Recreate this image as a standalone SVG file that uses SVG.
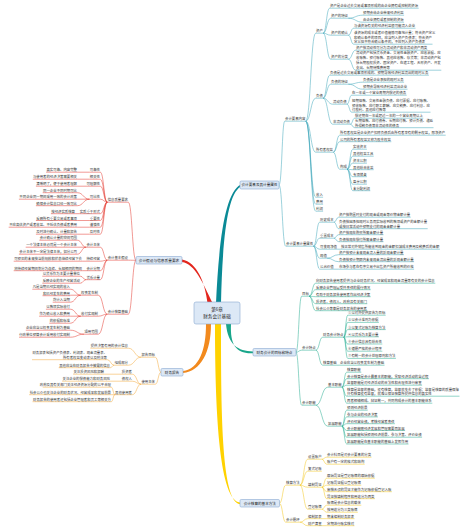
<svg xmlns="http://www.w3.org/2000/svg" width="474" height="530" viewBox="0 0 474 530">
<style>
text{font-family:"Noto Sans CJK SC","Noto Sans",sans-serif;font-size:3.4px;fill:#333}
.e{text-anchor:end}
.n rect{fill:#dce8f6;stroke:#89a9d2;stroke-width:.6}
.n text{font-size:3.6px;text-anchor:middle;fill:#222}
.ctr text{font-size:4.6px}
path{fill:none;stroke-width:.5}
.a{stroke:#3aa5b8}.b{stroke:#22aa8f}.c{stroke:#f3c516}.d{stroke:#f2a635}.f{stroke:#e2352b}
.mt{fill:#0a8a96;stroke:none}.mr{fill:#e3261d;stroke:none}.mo{fill:#f28a1e;stroke:none}.my{fill:#ffd200;stroke:none}.mg{fill:#19a68b;stroke:none}
</style>
<rect width="474" height="530" fill="#fff"/>
<g id="connectors">
<path class="mt" d="M216 303C219 240 225 193 240.5 184.8L240.5 186.8C227 195 222.5 240 221 303Z"/>
<path class="mr" d="M207.5 303C205 282 197 262.5 182 259.5L182 262C195 264 203 283 212.5 303Z"/>
<path class="mo" d="M206 324C206 350 199 369 183 371L183 373C201 371 211 352 211 324Z"/>
<path class="my" d="M215 324C215 420 220 500 240 502.5L240 504.2C222 502 221 420 221 324Z"/>
<path class="mg" d="M226 324C228 345 238 351 253 351.5L253 353.2C236 354 230 345 231 324Z"/>
<g class="a">
<path d="M279 185C282 185 282 121.2 284.7 121.2M279 185C282.3 185 282.3 246.2 285.7 246.2"/>
<path d="M305.7 121.2C310.7 121.2 310.7 33.2 315.7 33.2M305.7 121.2C310.7 121.2 310.7 98.2 315.7 98.2M305.7 121.2C310.7 121.2 310.7 152.2 315.7 152.2M305.7 121.2C310.7 121.2 310.7 197.2 315.7 197.2M305.7 121.2C310.7 121.2 310.7 204.2 315.7 204.2M305.7 121.2C310.7 121.2 310.7 211.2 315.7 211.2"/>
<path d="M323.1 33.2C326.4 33.2 326.4 8.2 329.7 8.2M323.1 33.2C326.9 33.2 326.9 18.2 330.7 18.2M323.1 33.2C326.9 33.2 326.9 35.2 330.7 35.2M323.1 33.2C326.9 33.2 326.9 59.2 330.7 59.2"/>
<path d="M348.3 18.2C355.5 18.2 355.5 15.2 362.7 15.2M348.3 18.2C355.5 18.2 355.5 22.2 362.7 22.2"/>
<path d="M348.3 35.2C351 35.2 351 28.2 353.7 28.2M348.3 35.2C351 35.2 351 44.2 353.7 44.2"/>
<path d="M348.3 59.2C352 59.2 352 50.2 355.7 50.2M348.3 59.2C352 59.2 352 70.2 355.7 70.2"/>
<path d="M323.1 98.2C326.4 98.2 326.4 75.2 329.7 75.2M323.1 98.2C326.9 98.2 326.9 84.2 330.7 84.2M323.1 98.2C327.9 98.2 327.9 104.2 332.7 104.2M323.1 98.2C327.9 98.2 327.9 124.2 332.7 124.2"/>
<path d="M348.3 84.2C355.5 84.2 355.5 82.2 362.7 82.2M348.3 84.2C355.5 84.2 355.5 89.2 362.7 89.2"/>
<path d="M346.9 104.2C349.3 104.2 349.3 95.2 351.7 95.2M346.9 104.2C349.3 104.2 349.3 112.2 351.7 112.2"/>
<path d="M350.3 124.2C352.5 124.2 352.5 118.2 354.7 118.2M350.3 124.2C352.5 124.2 352.5 127.7 354.7 127.7"/>
<path d="M333.3 152.2C336.5 152.2 336.5 135.2 339.7 135.2M333.3 152.2C336.5 152.2 336.5 141.7 339.7 141.7M333.3 152.2C336.5 152.2 336.5 169.2 339.7 169.2"/>
<path d="M347.1 169.2C350 169.2 350 149.2 352.7 149.2M347.1 169.2C350 169.2 350 156.2 352.7 156.2M347.1 169.2C350 169.2 350 163.2 352.7 163.2M347.1 169.2C350 169.2 350 169.7 352.7 169.7M347.1 169.2C350 169.2 350 176.7 352.7 176.7M347.1 169.2C350 169.2 350 184.2 352.7 184.2M347.1 169.2C350 169.2 350 190.7 352.7 190.7"/>
<path d="M313.5 246.2C316.6 246.2 316.6 222.2 319.7 222.2M313.5 246.2C316.6 246.2 316.6 238.2 319.7 238.2M313.5 246.2C316.6 246.2 316.6 249.2 319.7 249.2M313.5 246.2C316.6 246.2 316.6 258.2 319.7 258.2M313.5 246.2C316.6 246.2 316.6 269.2 319.7 269.2"/>
<path d="M333.9 222.2C336.3 222.2 336.3 217.2 338.7 217.2M333.9 222.2C336.3 222.2 336.3 228.7 338.7 228.7M333.9 238.2C336.3 238.2 336.3 234.7 338.7 234.7M333.9 238.2C336.3 238.2 336.3 241.7 338.7 241.7M337.3 249.2H340.7M327.1 258.2C332.9 258.2 332.9 254.7 338.7 254.7M327.1 258.2C332.9 258.2 332.9 261.7 338.7 261.7M333.9 269.2H338.7"/>
</g>
<g class="b">
<path d="M296 352.3C298.8 352.3 298.8 296.2 301.7 296.2M296 352.3C298.8 352.3 298.8 350.2 301.7 350.2M296 352.3C298.8 352.3 298.8 405.2 301.7 405.2"/>
<path d="M309.1 296.2C312.4 296.2 312.4 283.2 315.7 283.2M309.1 296.2C312.4 296.2 312.4 289.7 315.7 289.7M309.1 296.2C312.4 296.2 312.4 296.7 315.7 296.7M309.1 296.2C312.4 296.2 312.4 303.7 315.7 303.7M309.1 296.2C312.4 296.2 312.4 310.7 315.7 310.7"/>
<path d="M315.9 350.2C319.3 350.2 319.3 337.2 322.7 337.2M315.9 350.2C319.3 350.2 319.3 365.2 322.7 365.2"/>
<path d="M343.7 337.2C345.7 337.2 345.7 315.2 347.7 315.2M343.7 337.2C345.7 337.2 345.7 322.4 347.7 322.4M343.7 337.2C345.7 337.2 345.7 329.6 347.7 329.6M343.7 337.2C345.7 337.2 345.7 336.8 347.7 336.8M343.7 337.2C345.7 337.2 345.7 344 347.7 344M343.7 337.2C345.7 337.2 345.7 351.2 347.7 351.2M343.7 337.2C345.7 337.2 345.7 358.4 347.7 358.4M336.9 365.2H339.7"/>
<path d="M315.9 405.2C321.8 405.2 321.8 387.2 327.7 387.2M315.9 405.2C321.8 405.2 321.8 426.2 327.7 426.2"/>
<path d="M341.9 387.2C344.3 387.2 344.3 372.2 346.7 372.2M341.9 387.2C344.3 387.2 344.3 378.7 346.7 378.7M341.9 387.2C344.3 387.2 344.3 385.2 346.7 385.2M341.9 387.2C344.3 387.2 344.3 396.2 346.7 396.2M341.9 387.2C344.3 387.2 344.3 403.2 346.7 403.2"/>
<path d="M341.9 426.2C344.3 426.2 344.3 410.2 346.7 410.2M341.9 426.2C344.3 426.2 344.3 416.9 346.7 416.9M341.9 426.2C344.3 426.2 344.3 423.7 346.7 423.7M341.9 426.2C344.3 426.2 344.3 430.5 346.7 430.5M341.9 426.2C344.3 426.2 344.3 437.2 346.7 437.2M341.9 426.2C344.3 426.2 344.3 444 346.7 444"/>
</g>
<g class="c">
<path d="M279.5 503.3C282.6 503.3 282.6 485.2 285.7 485.2M279.5 503.3C282.6 503.3 282.6 522.2 285.7 522.2"/>
<path d="M299.9 485.2C303.8 485.2 303.8 459.2 307.7 459.2M299.9 485.2C303.8 485.2 303.8 471.2 307.7 471.2M299.9 485.2C303.8 485.2 303.8 487.2 307.7 487.2M299.9 485.2C303.8 485.2 303.8 509.2 307.7 509.2"/>
<path d="M321.9 459.2C324.3 459.2 324.3 457.2 326.7 457.2M321.9 459.2C324.3 459.2 324.3 464.2 326.7 464.2"/>
<path d="M321.9 487.2C324.3 487.2 324.3 478.2 326.7 478.2M321.9 487.2C324.3 487.2 324.3 485.2 326.7 485.2M321.9 487.2C324.3 487.2 324.3 491.7 326.7 491.7M321.9 487.2C324.3 487.2 324.3 498.7 326.7 498.7"/>
<path d="M321.9 509.2C324.3 509.2 324.3 505.2 326.7 505.2M321.9 509.2C324.3 509.2 324.3 512.2 326.7 512.2"/>
<path d="M299.9 522.2C303.8 522.2 303.8 518.7 307.7 518.7M299.9 522.2C303.8 522.2 303.8 525.7 307.7 525.7M321.9 518.7H326.7M321.9 525.7H326.7"/>
</g>
<g class="d">
<path d="M161 372.2C158.2 372.2 158.2 357.2 155.3 357.2M161 372.2C158.2 372.2 158.2 384.2 155.3 384.2"/>
<path d="M141.1 357.2C134.7 357.2 134.7 348.2 128.3 348.2M141.1 357.2C134.7 357.2 134.7 365.2 128.3 365.2"/>
<path d="M114.1 365.2C110.7 365.2 110.7 359.7 107.3 359.7M114.1 365.2C112.2 365.2 112.2 367.7 110.3 367.7"/>
<path d="M141.1 384.2C136.7 384.2 136.7 374.2 132.3 374.2M141.1 384.2C136.7 384.2 136.7 381.2 132.3 381.2M141.1 384.2C136.7 384.2 136.7 394.7 132.3 394.7"/>
<path d="M121.9 374.2H104.3M121.9 381.2H110.3"/>
<path d="M114.9 394.7C113.1 394.7 113.1 387.2 111.3 387.2M114.9 394.7H111.3M114.9 394.7C113.1 394.7 113.1 401.7 111.3 401.7"/>
</g>
<g class="f">
<path d="M136 260.3C132.2 260.3 132.2 202.2 128.3 202.2M136 260.3C132.2 260.3 132.2 260.2 128.3 260.2M136 260.3C132.2 260.3 132.2 314.2 128.3 314.2"/>
<path d="M107.3 202.2C103.8 202.2 103.8 172.2 100.3 172.2M107.3 202.2C103.8 202.2 103.8 179.2 100.3 179.2M107.3 202.2C103.8 202.2 103.8 186.2 100.3 186.2M107.3 202.2C103.8 202.2 103.8 199.2 100.3 199.2M107.3 202.2C103.8 202.2 103.8 213.7 100.3 213.7M107.3 202.2C103.8 202.2 103.8 220.5 100.3 220.5M107.3 202.2C103.8 202.2 103.8 227.2 100.3 227.2M107.3 202.2C103.8 202.2 103.8 234.2 100.3 234.2"/>
<path d="M89.5 172.2H77.3M89.5 179.2H77.3M86.1 186.2H77.3M89.5 199.2C83.4 199.2 83.4 192.7 77.3 192.7M89.5 199.2H77.3M89.5 199.2C83.4 199.2 83.4 205.7 77.3 205.7M79.3 213.7H75.3M89.5 220.5H77.3M89.5 227.2H77.3M89.5 234.2H77.3"/>
<path d="M107.3 260.2C103.8 260.2 103.8 247.2 100.3 247.2M107.3 260.2C103.8 260.2 103.8 261.2 100.3 261.2M107.3 260.2C103.8 260.2 103.8 270.7 100.3 270.7M107.3 260.2C103.8 260.2 103.8 279.7 100.3 279.7"/>
<path d="M86.1 247.2C81.7 247.2 81.7 240.2 77.3 240.2M86.1 247.2H77.3M86.1 247.2C81.7 247.2 81.7 254.2 77.3 254.2M86.1 261.2H82.3M86.1 270.7H82.3M86.1 279.7C83.2 279.7 83.2 276.2 80.3 276.2M86.1 279.7C83.2 279.7 83.2 283.2 80.3 283.2"/>
<path d="M107.3 314.2C102.8 314.2 102.8 295.2 98.3 295.2M107.3 314.2C102.8 314.2 102.8 316.2 98.3 316.2M107.3 314.2C102.8 314.2 102.8 334.2 98.3 334.2"/>
<path d="M80.7 295.2C75.5 295.2 75.5 289.2 70.3 289.2M80.7 295.2H70.3M80.7 295.2C75.5 295.2 75.5 302.2 70.3 302.2M80.7 316.2C75.5 316.2 75.5 309.2 70.3 309.2M80.7 316.2H70.3M80.7 316.2C75.5 316.2 75.5 323.2 70.3 323.2M84.1 334.2C77.2 334.2 77.2 330.2 70.3 330.2M84.1 334.2C77.2 334.2 77.2 337.2 70.3 337.2"/>
</g>
</g>

<g id="center" class="n ctr"><rect x="194" y="302" width="46" height="22" rx="2"/><text x="217" y="310.8">第6章</text><text x="217" y="317.6">财务会计基础</text></g>

<g id="n1" class="n"><rect x="240" y="181" width="39" height="8" rx="1.2"/><text x="259.5" y="186.3">会计要素及其计量属性</text></g>
<g id="n2" class="n"><rect x="253" y="348.5" width="43" height="7.5" rx="1.2"/><text x="274.5" y="353.6">财务会计的目标和特点</text></g>
<g id="n3" class="n"><rect x="240" y="499.5" width="39.5" height="7.5" rx="1.2"/><text x="259.8" y="504.6">会计核算的基本方法</text></g>
<g id="n4" class="n"><rect x="161" y="368.5" width="22" height="7.5" rx="1.2"/><text x="172" y="373.5">财务报告</text></g>
<g id="n5" class="n"><rect x="136" y="256.5" width="46" height="7.5" rx="1.2"/><text x="159" y="261.6" style="font-size:3.7px">会计假设与信息质量要求</text></g>

<g id="n1-items">
<g id="n1-1"><path class="a" d="M284.7 121.2H305.7"/><text x="285" y="120.2">会计要素内容</text></g>
<g id="n1-2"><path class="a" d="M285.7 246.2H313.5"/><text x="286" y="245.2">会计要素计量属性</text></g>
<g id="zc"><path class="a" d="M315.7 33.2H323.1"/><text x="316" y="32.2">资产</text></g>
<g id="fz"><path class="a" d="M315.7 98.2H323.1"/><text x="316" y="97.2">负债</text></g>
<g id="qy"><path class="a" d="M315.7 152.2H333.3"/><text x="316" y="151.2">所有者权益</text></g>
<g id="sr"><path class="a" d="M315.7 197.2H323.1"/><text x="316" y="196.2">收入</text></g>
<g id="fy"><path class="a" d="M315.7 204.2H323.1"/><text x="316" y="203.2">费用</text></g>
<g id="lr"><path class="a" d="M315.7 211.2H323.1"/><text x="316" y="210.2">利润</text></g>
<g id="zc1"><path class="a" d="M329.7 8.2H418.7"/><text x="330" y="7.2">资产是企业过去交易或事项形成的由企业拥有或控制的资源</text></g>
<g id="zc2"><path class="a" d="M330.7 18.2H348.3"/><text x="331" y="17.2">资产的特征</text></g>
<g id="zc21"><path class="a" d="M362.7 15.2H404.1"/><text x="363" y="14.2">预期会给企业带来经济利益</text></g>
<g id="zc22"><path class="a" d="M362.7 22.2H404.1"/><text x="363" y="21.2">由企业拥有或者控制的资源</text></g>
<g id="zc3"><path class="a" d="M330.7 35.2H348.3"/><text x="331" y="34.2">资产的确认</text></g>
<g id="zc31"><path class="a" d="M353.7 28.2H415.5"/><text x="354" y="27.2">与该资源有关的经济利益很可能流入企业</text></g>
<g id="zc32"><path class="a" d="M353.7 44.2H432.5"/><text x="354" y="34.2">该资源的成本或者价值能够可靠地计量；符合资产定义</text><text x="354" y="38.7">和确认条件的项目，应当列入资产负债表；符合资产</text><text x="354" y="43.2">定义但不符合确认条件的，不应列入资产负债表</text></g>
<g id="zc4"><path class="a" d="M330.7 59.2H348.3"/><text x="331" y="58.2">资产的分类</text></g>
<g id="zc41"><path class="a" d="M355.7 50.2H427.7"/><text x="356" y="49.2">资产按流动性可分为流动资产和非流动资产两类</text></g>
<g id="zc42"><path class="a" d="M355.7 70.2H441.3"/><text x="356" y="54.2">流动资产包括货币资金、交易性金融资产、应收票据、应</text><text x="356" y="59.2">收账款、预付账款、其他应收款、存货等；非流动资产包</text><text x="356" y="64.2">括长期股权投资、固定资产、在建工程、无形资产、开发</text><text x="356" y="69.2">支出、长期待摊费用等</text></g>
<g id="fz1"><path class="a" d="M329.7 75.2H428.9"/><text x="330" y="74.2">负债是过去交易或事项形成的、预期导致经济利益流出的现时义务</text></g>
<g id="fz2"><path class="a" d="M330.7 84.2H348.3"/><text x="331" y="83.2">负债的特征</text></g>
<g id="fz21"><path class="a" d="M362.7 82.2H404.1"/><text x="363" y="81.2">负债是企业承担的现时义务</text></g>
<g id="fz22"><path class="a" d="M362.7 89.2H407.5"/><text x="363" y="88.2">预期会导致经济利益流出企业</text></g>
<g id="fz3"><path class="a" d="M332.7 104.2H346.9"/><text x="333" y="103.2">流动负债</text></g>
<g id="fz31"><path class="a" d="M351.7 95.2H406.7"/><text x="352" y="94.2">在一年或一个营业周期内偿还的债务</text></g>
<g id="fz32"><path class="a" d="M351.7 112.2H430.5"/><text x="352" y="102.2">短期借款、交易性金融负债、应付票据、应付账款、</text><text x="352" y="106.7">预收账款、应付职工薪酬、应交税费、应付利息、应</text><text x="352" y="111.2">付股利、其他应付款等</text></g>
<g id="fz4"><path class="a" d="M332.7 124.2H350.3"/><text x="333" y="123.2">非流动负债</text></g>
<g id="fz41"><path class="a" d="M354.7 118.2H423.3"/><text x="355" y="117.2">偿还期在一年或超过一年的一个营业周期以上</text></g>
<g id="fz42"><path class="a" d="M354.7 127.7H433.5"/><text x="355" y="122.2">长期借款、应付债券、长期应付款、预计负债、递延</text><text x="355" y="126.7">所得税负债等非流动性的债务</text></g>
<g id="qy1"><path class="a" d="M339.7 135.2H445.7"/><text x="340" y="134.2">所有者权益是企业资产扣除负债后由所有者享有的剩余权益，即净资产</text></g>
<g id="qy2"><path class="a" d="M339.7 141.7H391.3"/><text x="340" y="140.7">公司的所有者权益又称为股东权益</text></g>
<g id="qy3"><path class="a" d="M339.7 169.2H347.1"/><text x="340" y="168.2">构成</text></g>
<g id="qy31"><path class="a" d="M352.7 149.2H366.9"/><text x="353" y="148.2">实收资本</text></g>
<g id="qy32"><path class="a" d="M352.7 156.2H373.7"/><text x="353" y="155.2">其他权益工具</text></g>
<g id="qy33"><path class="a" d="M352.7 163.2H366.9"/><text x="353" y="162.2">资本公积</text></g>
<g id="qy34"><path class="a" d="M352.7 169.7H373.7"/><text x="353" y="168.7">其他综合收益</text></g>
<g id="qy35"><path class="a" d="M352.7 176.7H366.9"/><text x="353" y="175.7">专项储备</text></g>
<g id="qy36"><path class="a" d="M352.7 184.2H366.9"/><text x="353" y="183.2">盈余公积</text></g>
<g id="qy37"><path class="a" d="M352.7 190.7H370.3"/><text x="353" y="189.7">未分配利润</text></g>
<g id="jl1"><path class="a" d="M319.7 222.2H333.9"/><text x="320" y="221.2">历史成本</text></g>
<g id="jl11"><path class="a" d="M338.7 217.2H410.7"/><text x="339" y="216.2">资产按购置时支付的现金或现金等价物金额计量</text></g>
<g id="jl12"><path class="a" d="M338.7 228.7H427.7"/><text x="339" y="223.2">负债按因承担现时义务而实际收到的款项或资产的金额计量</text><text x="339" y="227.7">或按日常活动中预期支付的现金金额计量</text></g>
<g id="jl2"><path class="a" d="M319.7 238.2H333.9"/><text x="320" y="237.2">重置成本</text></g>
<g id="jl21"><path class="a" d="M338.7 234.7H383.5"/><text x="339" y="233.7">资产按现在购买所需金额计量</text></g>
<g id="jl22"><path class="a" d="M338.7 241.7H383.5"/><text x="339" y="240.7">负债按现在偿付所需金额计量</text></g>
<g id="jl3"><path class="a" d="M319.7 249.2H337.3"/><text x="320" y="248.2">可变现净值</text></g>
<g id="jl31"><path class="a" d="M340.7 249.2H439.9"/><text x="341" y="248.2">按正常对外销售所能收到现金的金额扣减成本费用及税费后的金额</text></g>
<g id="jl4"><path class="a" d="M319.7 258.2H327.1"/><text x="320" y="257.2">现值</text></g>
<g id="jl41"><path class="a" d="M338.7 254.7H403.9"/><text x="339" y="253.7">资产按预计未来现金流入量的折现金额计量</text></g>
<g id="jl42"><path class="a" d="M338.7 261.7H414.1"/><text x="339" y="260.7">负债按预计期限内未来现金流出量的折现金额计量</text></g>
<g id="jl5"><path class="a" d="M319.7 269.2H333.9"/><text x="320" y="268.2">公允价值</text></g>
<g id="jl51"><path class="a" d="M338.7 269.2H414.1"/><text x="339" y="268.2">市场参与者在有序交易中出售资产所能收到的价格</text></g>
</g>

<g id="n2-items">
<g id="mb"><path class="b" d="M301.7 296.2H309.1"/><text x="302" y="295.2">目标</text></g>
<g id="mb1"><path class="b" d="M315.7 283.2H435.3"/><text x="316" y="282.2">向财务报告使用者提供与企业财务状况、经营成果和现金流量等有关的会计信息</text></g>
<g id="mb2"><path class="b" d="M315.7 289.7H370.7"/><text x="316" y="288.7">反映企业管理层受托责任的履行情况</text></g>
<g id="mb3"><path class="b" d="M315.7 296.7H370.7"/><text x="316" y="295.7">有助于财务报告使用者作出经济决策</text></g>
<g id="mb4"><path class="b" d="M315.7 303.7H367.3"/><text x="316" y="302.7">投资者、债权人、政府及有关部门</text></g>
<g id="mb5"><path class="b" d="M315.7 310.7H367.3"/><text x="316" y="309.7">社会公众等都是财务报告的使用者</text></g>
<g id="td"><path class="b" d="M301.7 350.2H315.9"/><text x="302" y="349.2">会计特点</text></g>
<g id="td1"><path class="b" d="M322.7 337.2H343.7"/><text x="323" y="336.2">财务会计特点</text></g>
<g id="td11"><path class="b" d="M347.7 315.2H385.7"/><text x="348" y="314.2">①以对外提供报告为目标</text></g>
<g id="td12"><path class="b" d="M347.7 322.4H378.9"/><text x="348" y="321.4">②以会计准则为依据</text></g>
<g id="td13"><path class="b" d="M347.7 329.6H385.7"/><text x="348" y="328.6">③以复式记账为核算方法</text></g>
<g id="td14"><path class="b" d="M347.7 336.8H378.9"/><text x="348" y="335.8">④以货币为主要计量</text></g>
<g id="td15"><path class="b" d="M347.7 344H382.3"/><text x="348" y="343">⑤会计信息具有综合性</text></g>
<g id="td16"><path class="b" d="M347.7 351.2H382.3"/><text x="348" y="350.2">⑥遵循严格的会计程序</text></g>
<g id="td17"><path class="b" d="M347.7 358.4H395.9"/><text x="348" y="357.4">⑦有统一的会计处理原则和方法</text></g>
<g id="td2"><path class="b" d="M322.7 365.2H336.9"/><text x="323" y="364.2">核算基础</text></g>
<g id="td21"><path class="b" d="M339.7 365.2H384.5"/><text x="340" y="364.2">企业应当以权责发生制为基础</text></g>
<g id="zn"><path class="b" d="M301.7 405.2H315.9"/><text x="302" y="404.2">会计职能</text></g>
<g id="zn1"><path class="b" d="M327.7 387.2H341.9"/><text x="328" y="386.2">基本职能</text></g>
<g id="zn11"><path class="b" d="M346.7 372.2H361.3"/><text x="347" y="371.2">核算职能</text></g>
<g id="zn12"><path class="b" d="M346.7 378.7H428.9"/><text x="347" y="377.7">会计核算是会计最基本的职能，贯穿经济活动的全过程</text></g>
<g id="zn13"><path class="b" d="M346.7 385.2H422.1"/><text x="347" y="384.2">监督职能是对经济活动的合法性和合理性进行审查</text></g>
<g id="zn14"><path class="b" d="M346.7 396.2H459.5"/><text x="347" y="390.7">核算是监督的基础，没有核算，监督就失去了依据；监督是核算的质量保障</text><text x="347" y="395.2">只有核算没有监督，就难以保证核算所提供信息的真实性</text></g>
<g id="zn15"><path class="b" d="M346.7 403.2H432.3"/><text x="347" y="402.2">两者相辅相成、辩证统一，共同构成会计的基本职能体系</text></g>
<g id="zn2"><path class="b" d="M327.7 426.2H341.9"/><text x="328" y="425.2">拓展职能</text></g>
<g id="zn21"><path class="b" d="M346.7 410.2H367.7"/><text x="347" y="409.2">预测经济前景</text></g>
<g id="zn22"><path class="b" d="M346.7 416.9H377.9"/><text x="347" y="415.9">参与企业的经济决策</text></g>
<g id="zn23"><path class="b" d="M346.7 423.7H394.9"/><text x="347" y="422.7">评价经营业绩，考核经营者责任</text></g>
<g id="zn24"><path class="b" d="M346.7 430.5H405.1"/><text x="347" y="429.5">会计职能随经济发展和管理需要而拓展</text></g>
<g id="zn25"><path class="b" d="M346.7 437.2H422.1"/><text x="347" y="436.2">拓展职能包括预测经济前景、参与决策、评价业绩</text></g>
<g id="zn26"><path class="b" d="M346.7 444H408.5"/><text x="347" y="443">拓展职能是在基本职能的基础上发挥作用</text></g>
</g>

<g id="n3-items">
<g id="ff"><path class="c" d="M285.7 485.2H299.9"/><text x="286" y="484.2">核算方法</text></g>
<g id="xh"><path class="c" d="M285.7 522.2H299.9"/><text x="286" y="521.2">会计循环</text></g>
<g id="ff1"><path class="c" d="M307.7 459.2H321.9"/><text x="308" y="458.2">设置账户</text></g>
<g id="ff11"><path class="c" d="M326.7 457.2H371.5"/><text x="327" y="456.2">会计科目是对会计要素的分类</text></g>
<g id="ff12"><path class="c" d="M326.7 464.2H364.7"/><text x="327" y="463.2">账户有一定的格式和结构</text></g>
<g id="ff2"><path class="c" d="M307.7 471.2H321.9"/><text x="308" y="470.2">复式记账</text></g>
<g id="ff3"><path class="c" d="M307.7 487.2H321.9"/><text x="308" y="486.2">填制凭证</text></g>
<g id="ff31"><path class="c" d="M326.7 478.2H374.9"/><text x="327" y="477.2">原始凭证是登记账簿的原始依据</text></g>
<g id="ff32"><path class="c" d="M326.7 485.2H361.3"/><text x="327" y="484.2">记账凭证据以登记账簿</text></g>
<g id="ff33"><path class="c" d="M326.7 491.7H391.9"/><text x="327" y="490.7">审核无误的凭证才能作为记账依据登记入账</text></g>
<g id="ff34"><path class="c" d="M326.7 498.7H374.9"/><text x="327" y="497.7">凭证按填制程序和用途分为两类</text></g>
<g id="ff4"><path class="c" d="M307.7 509.2H321.9"/><text x="308" y="508.2">登记账簿</text></g>
<g id="ff41"><path class="c" d="M326.7 505.2H361.3"/><text x="327" y="504.2">账簿是会计信息的载体</text></g>
<g id="ff42"><path class="c" d="M326.7 512.2H357.9"/><text x="327" y="511.2">按用途分为三类账簿</text></g>
<g id="xh1"><path class="c" d="M307.7 518.7H321.9"/><text x="308" y="517.7">编制报表</text></g>
<g id="xh11"><path class="c" d="M326.7 518.7H354.5"/><text x="327" y="517.7">期末编制财务报表</text></g>
<g id="xh2"><path class="c" d="M307.7 525.7H321.9"/><text x="308" y="524.7">财产清查</text></g>
<g id="xh21"><path class="c" d="M326.7 525.7H354.5"/><text x="327" y="524.7">定期进行账实核对</text></g>
</g>

<g id="n4-items" class="e">
<g id="bg"><path class="d" d="M141.1 357.2H155.3"/><text class="e" x="155" y="356.2">报告目标</text></g>
<g id="bg1"><path class="d" d="M90.3 348.2H128.3"/><text class="e" x="128" y="347.2">提供决策有用的会计信息</text></g>
<g id="bg2"><path class="d" d="M114.1 365.2H128.3"/><text class="e" x="128" y="364.2">组成部分</text></g>
<g id="bg21"><path class="d" d="M32 359.7H107.3"/><text class="e" x="107" y="353.7">财务报表包括资产负债表、利润表、现金流量表、</text><text class="e" x="107" y="358.7">所有者权益变动表以及附注等</text></g>
<g id="bg22"><path class="d" d="M58.7 367.7H110.3"/><text class="e" x="110" y="366.7">其他应当在财务报告中披露的信息</text></g>
<g id="sy"><path class="d" d="M141.1 384.2H155.3"/><text class="e" x="155" y="383.2">使用主体</text></g>
<g id="sy1"><path class="d" d="M121.9 374.2H132.3"/><text class="e" x="132" y="373.2">投资者</text></g>
<g id="sy11"><path class="d" d="M73.1 374.2H104.3"/><text class="e" x="104" y="373.2">关注投资风险和报酬</text></g>
<g id="sy2"><path class="d" d="M121.9 381.2H132.3"/><text class="e" x="132" y="380.2">债权人</text></g>
<g id="sy21"><path class="d" d="M62.1 381.2H110.3"/><text class="e" x="110" y="380.2">关注企业的偿债能力和财务风险</text></g>
<g id="sy3"><path class="d" d="M114.9 394.7H132.3"/><text class="e" x="132" y="393.7">其他使用者</text></g>
<g id="sy31"><path class="d" d="M42.7 387.2H111.3"/><text class="e" x="111" y="386.2">政府及其有关部门关注经济资源分配的公平合理</text></g>
<g id="sy32"><path class="d" d="M29.1 394.7H111.3"/><text class="e" x="111" y="393.7">社会公众也关注企业的财务状况、经营成果和发展前景</text></g>
<g id="sy33"><path class="d" d="M32.5 401.7H111.3"/><text class="e" x="111" y="400.7">财务报告的使用者还包括企业管理者和员工等相关方</text></g>
</g>

<g id="n5-items">
<g id="zl"><path class="f" d="M107.3 202.2H128.3"/><text class="e" x="128" y="201.2">信息质量要求</text></g>
<g id="jb"><path class="f" d="M107.3 260.2H128.3"/><text class="e" x="128" y="259.2">会计基本假设</text></g>
<g id="hs"><path class="f" d="M107.3 314.2H128.3"/><text class="e" x="128" y="313.2">会计核算基础</text></g>
<g id="zl1"><path class="f" d="M89.5 172.2H100.3"/><text class="e" x="100" y="171.2">可靠性</text></g>
<g id="zl2"><path class="f" d="M89.5 179.2H100.3"/><text class="e" x="100" y="178.2">相关性</text></g>
<g id="zl3"><path class="f" d="M86.1 186.2H100.3"/><text class="e" x="100" y="185.2">可理解性</text></g>
<g id="zl4"><path class="f" d="M89.5 199.2H100.3"/><text class="e" x="100" y="198.2">可比性</text></g>
<g id="zl5"><path class="f" d="M79.3 213.7H100.3"/><text class="e" x="100" y="212.7">实质重于形式</text></g>
<g id="zl6"><path class="f" d="M89.5 220.5H100.3"/><text class="e" x="100" y="219.5">重要性</text></g>
<g id="zl7"><path class="f" d="M89.5 227.2H100.3"/><text class="e" x="100" y="226.2">谨慎性</text></g>
<g id="zl8"><path class="f" d="M89.5 234.2H100.3"/><text class="e" x="100" y="233.2">及时性</text></g>
<g id="zl1d"><path class="f" d="M46.1 172.2H77.3"/><text class="e" x="77" y="171.2">真实可靠、内容完整</text></g>
<g id="zl2d"><path class="f" d="M32.8 179.2H77.3"/><text class="e" x="77" y="178.2">与使用者的经济决策需要相关</text></g>
<g id="zl3d"><path class="f" d="M35.9 186.2H77.3"/><text class="e" x="77" y="185.2">清晰明了，便于使用者理解</text></g>
<g id="zl4a"><path class="f" d="M42.7 192.7H77.3"/><text class="e" x="77" y="191.7">同一企业不同时期可比</text></g>
<g id="zl4b"><path class="f" d="M18.9 199.2H77.3"/><text class="e" x="77" y="198.2">不同企业同一期间采用一致的会计政策</text></g>
<g id="zl4c"><path class="f" d="M35.9 205.7H77.3"/><text class="e" x="77" y="204.7">确保会计信息口径一致可比</text></g>
<g id="zl5d"><path class="f" d="M50.9 213.7H75.3"/><text class="e" x="75" y="212.7">按经济实质核算</text></g>
<g id="zl6d"><path class="f" d="M35.9 220.5H77.3"/><text class="e" x="77" y="219.5">反映所有重要交易或者事项</text></g>
<g id="zl7d"><path class="f" d="M8.7 227.2H77.3"/><text class="e" x="77" y="226.2">不应高估资产或者收益、不低估负债或者费用</text></g>
<g id="zl8d"><path class="f" d="M35.9 234.2H77.3"/><text class="e" x="77" y="233.2">及时进行确认、计量和报告</text></g>
<g id="jb1"><path class="f" d="M86.1 247.2H100.3"/><text class="e" x="100" y="246.2">会计主体</text></g>
<g id="jb2"><path class="f" d="M86.1 261.2H100.3"/><text class="e" x="100" y="260.2">持续经营</text></g>
<g id="jb3"><path class="f" d="M86.1 270.7H100.3"/><text class="e" x="100" y="269.7">会计分期</text></g>
<g id="jb4"><path class="f" d="M86.1 279.7H100.3"/><text class="e" x="100" y="278.7">货币计量</text></g>
<g id="jb1a"><path class="f" d="M39.3 240.2H77.3"/><text class="e" x="77" y="239.2">会计确认计量的空间范围</text></g>
<g id="jb1b"><path class="f" d="M25.7 247.2H77.3"/><text class="e" x="77" y="246.2">一个法律主体必然是一个会计主体</text></g>
<g id="jb1c"><path class="f" d="M18.9 254.2H77.3"/><text class="e" x="77" y="253.2">会计主体不一定是法律主体，如分公司</text></g>
<g id="jb2d"><path class="f" d="M13.7 261.2H82.3"/><text class="e" x="82" y="260.2">可预见的未来按当前规模和状态继续经营下去</text></g>
<g id="jb3d"><path class="f" d="M13.7 270.7H82.3"/><text class="e" x="82" y="269.7">将持续经营期间划分为连续、长短相同的期间</text></g>
<g id="jb4a"><path class="f" d="M42.3 276.2H80.3"/><text class="e" x="80" y="275.2">以货币作为主要计量单位</text></g>
<g id="jb4b"><path class="f" d="M42.3 283.2H80.3"/><text class="e" x="80" y="282.2">反映企业的生产经营活动</text></g>
<g id="hs1"><path class="f" d="M80.7 295.2H98.3"/><text class="e" x="98" y="294.2">权责发生制</text></g>
<g id="hs2"><path class="f" d="M80.7 316.2H98.3"/><text class="e" x="98" y="315.2">收付实现制</text></g>
<g id="hs3"><path class="f" d="M84.1 334.2H98.3"/><text class="e" x="98" y="333.2">适用范围</text></g>
<g id="hs1a"><path class="f" d="M32.3 289.2H70.3"/><text class="e" x="70" y="288.2">凡是当期已经实现的收入</text></g>
<g id="hs1b"><path class="f" d="M42.5 295.7H70.3"/><text class="e" x="70" y="294.7">和已经发生的费用</text></g>
<g id="hs1c"><path class="f" d="M52.7 302.2H70.3"/><text class="e" x="70" y="301.2">均计入当期</text></g>
<g id="hs2a"><path class="f" d="M45.9 309.2H70.3"/><text class="e" x="70" y="308.2">以款项实际收付</text></g>
<g id="hs2b"><path class="f" d="M39.1 316.2H70.3"/><text class="e" x="70" y="315.2">作为确认收入和费用</text></g>
<g id="hs2c"><path class="f" d="M49.3 323.2H70.3"/><text class="e" x="70" y="322.2">的依据和标准</text></g>
<g id="hs3a"><path class="f" d="M25.8 330.2H70.3"/><text class="e" x="70" y="329.2">企业应当以权责发生制为基础</text></g>
<g id="hs3b"><path class="f" d="M19 337.2H70.3"/><text class="e" x="70" y="336.2">行政单位预算会计采用收付实现制</text></g>
</g>
</svg>
